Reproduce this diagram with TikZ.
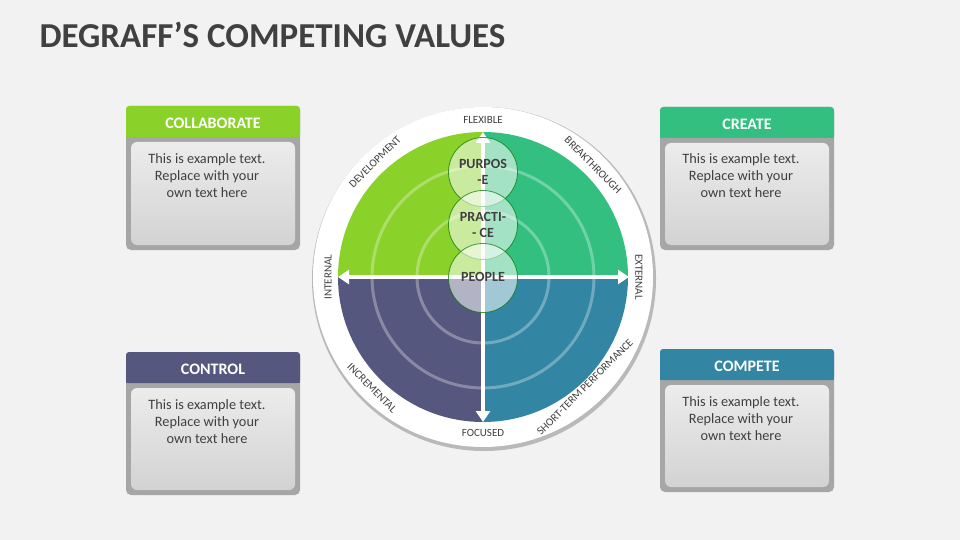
\documentclass[tikz,border=0pt]{standalone}
\usepackage{fontspec}
\setmainfont{Carlito}
\usetikzlibrary{arrows.meta}
\definecolor{gA}{HTML}{8AD12A}
\definecolor{gB}{HTML}{33BF80}
\definecolor{gC}{HTML}{56577E}
\definecolor{gD}{HTML}{3386A3}
\definecolor{txt}{HTML}{404040}
\definecolor{bg}{HTML}{F2F2F2}
\tikzset{
 hdr/.style={font=\bfseries\fontsize{16}{18}\selectfont, text=white},
 body/.style={align=center, text=txt, font=\fontsize{14.3}{17}\selectfont, anchor=north},
 lbl/.style={font=\fontsize{11}{12}\selectfont, text=txt, inner sep=1pt},
 circ/.style={fill=white, fill opacity=0.55, draw=green!45!black, draw opacity=0.7, line width=0.8pt},
 ctxt/.style={font=\bfseries\fontsize{14}{16}\selectfont, text=txt, align=center},
 arr/.style={white, line width=4pt, {Triangle[length=11pt,width=14pt]}-{Triangle[length=11pt,width=14pt]}}
}
\newcommand{\mybox}[5]{% x1 y1 x2 y2 color
 \fill[gray!70, rounded corners=5pt] (#1,#2) rectangle (#3,#4);
 \fill[#5, rounded corners=3pt] (#1,#2) rectangle (#3,#2+31);
 \fill[#5] (#1,#2+15) rectangle (#3,#2+31);
 \shade[top color=gray!15, bottom color=gray!35, rounded corners=6pt] (#1+5,#2+36) rectangle (#3-5,#4-5);
}
\begin{document}
\begin{tikzpicture}[x=1pt,y=-1pt]
\useasboundingbox (0,0) rectangle (960,540);
\fill[bg] (0,0) rectangle (960,540);
\node[anchor=west, font=\bfseries\fontsize{35}{38}\selectfont, text=txt] (title) at (36,35) {DEGRAFF’S COMPETING VALUES};

% boxes
\mybox{126}{106}{300}{250}{gA}
\node[hdr] (h1) at (213,123) {COLLABORATE};
\node[body] (b1) at (207,150) {This is example text.\\Replace with your\\own text here};
\mybox{126}{352}{300}{495}{gC}
\node[hdr] (h2) at (213,369) {CONTROL};
\node[body] (b2) at (207,396) {This is example text.\\Replace with your\\own text here};
\mybox{660}{107}{834}{250}{gB}
\node[hdr] (h3) at (747,124) {CREATE};
\node[body] (b3) at (741,150) {This is example text.\\Replace with your\\own text here};
\mybox{660}{349}{834}{492}{gD}
\node[hdr] (h4) at (747,366) {COMPETE};
\node[body] (b4) at (741,393) {This is example text.\\Replace with your\\own text here};

% circle
\coordinate (c) at (483,277);
\fill[gray!55] (484,279) circle (172);
\fill[white] (c) circle (170);
\begin{scope}
\clip (c) circle (145);
\fill[gA] (330,120) rectangle (483,277);
\fill[gB] (483,120) rectangle (640,277);
\fill[gC] (330,277) rectangle (483,440);
\fill[gD] (483,277) rectangle (640,440);
\end{scope}
\draw[white, opacity=0.3, line width=3pt] (c) circle (111);
\draw[white, opacity=0.3, line width=3pt] (c) circle (66);

\coordinate (L) at (338,277); \coordinate (R) at (629,277);
\coordinate (T) at (483,132); \coordinate (B) at (483,422);
\draw[arr] (L) -- (R);
\draw[arr] (T) -- (B);

\draw[circ] (483,172) circle (34.5);
\draw[circ] (483,225) circle (34.5);
\draw[circ] (483,278) circle (34.5);
\node[ctxt] (p1) at (483,172) {PURPOS\\-E};
\node[ctxt] (p2) at (483,225) {PRACTI-\\- CE};
\node[ctxt] (p3) at (483,277) {PEOPLE};

\node[lbl] (n1) at (483,120) {FLEXIBLE};
\node[lbl] (n2) at (483,433) {FOCUSED};
\node[lbl, rotate=90] (n3) at (328,277) {INTERNAL};
\node[lbl, rotate=-90] (n4) at (639,277) {EXTERNAL};
\node[lbl, rotate=45] (n5) at (375,162) {DEVELOPMENT};
\node[lbl, rotate=-45] (n6) at (593,165) {BREAKTHROUGH};
\node[lbl, rotate=-45] (n7) at (372,388) {INCREMENTAL};
\node[lbl, rotate=45] (n8) at (585,387) {SHORT-TERM PERFORMANCE};
\end{tikzpicture}
\end{document}
